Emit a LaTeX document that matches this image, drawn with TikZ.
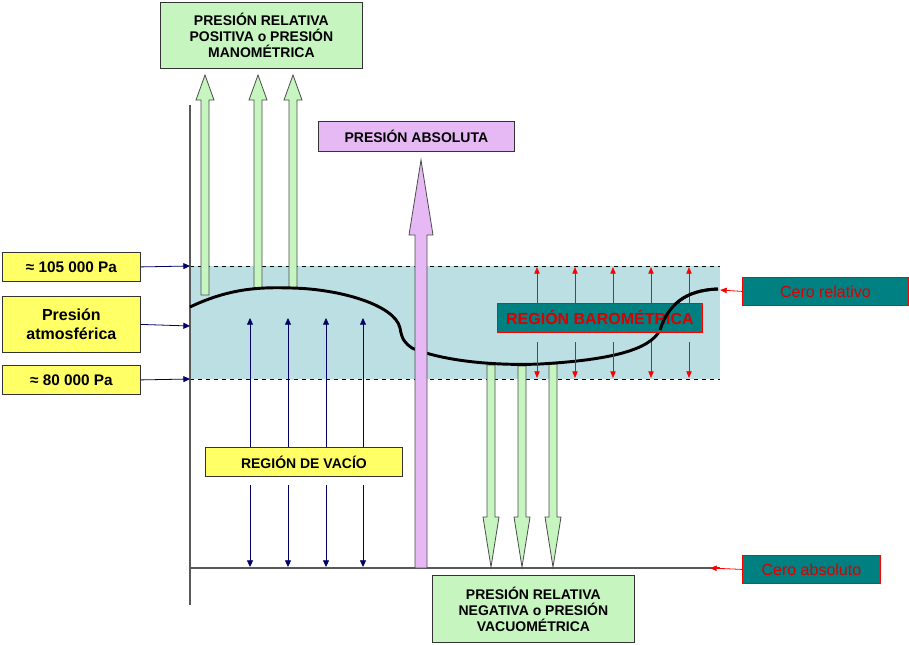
\documentclass[tikz,border=0pt]{standalone}
\usepackage{fontspec}
\setmainfont{Liberation Sans}
\usetikzlibrary{arrows.meta}
\definecolor{band}{HTML}{BCDFE3}
\definecolor{lgreen}{HTML}{C6F5C0}
\definecolor{lpink}{HTML}{E6B9F5}
\definecolor{lyel}{HTML}{FFFF66}
\definecolor{teal2}{HTML}{008080}
\definecolor{navy2}{HTML}{000066}
\begin{document}
\begin{tikzpicture}[x=0.75pt,y=-0.75pt,
  box/.style={draw=black!80,line width=0.6pt,inner sep=0pt,anchor=north west,align=center,font=\fontsize{10.5}{12}\selectfont\bfseries},
  tbox/.style={draw=red,fill=teal2,line width=0.6pt,inner sep=0pt,anchor=north west,font=\fontsize{12}{14}\selectfont,text=red!85!black},
  nav/.style={navy2,line width=0.6pt,-{Triangle[length=5pt,width=4.5pt]}},
  redar/.style={red,line width=0.6pt,-{Triangle[length=5pt,width=4pt]}}]
\useasboundingbox (0,0) rectangle (909,644);
% band
\fill[band] (190,266) rectangle (720,379);
\draw[dashed,line width=0.6pt] (190,266) -- (720,266);
\draw[dashed,line width=0.6pt] (190,379) -- (720,379);
% axes
\draw[gray!70!black,line width=0.8pt] (190,105) -- (190,605);
\draw[gray!70!black,line width=0.8pt] (190,568) -- (720,568);
% up green arrows
\foreach \x/\y in {205/295,258/288,293/288}{
  \draw[fill=lgreen,draw=black!70,line width=0.6pt] (\x-4,\y) -- (\x-4,100) -- (\x-9,100) -- (\x,75) -- (\x+9,100) -- (\x+4,100) -- (\x+4,\y) -- cycle;}
% down green arrows
\foreach \x/\y in {491/365,522/366,553/364}{
  \draw[fill=lgreen,draw=black!70,line width=0.6pt] (\x-4,\y) -- (\x-4,517) -- (\x-8,517) -- (\x,567) -- (\x+8,517) -- (\x+4,517) -- (\x+4,\y) -- cycle;}
% curve
\draw[line width=2.2pt] (190,307) .. controls (230,288) and (260,287) .. (292,288)
  .. controls (340,289) and (395,305) .. (400,328)
  .. controls (402,340) and (405,343) .. (412,348)
  .. controls (440,360) and (490,366) .. (540,364)
  .. controls (610,360) and (650,350) .. (660,330)
  .. controls (668,305) and (685,290) .. (718,289);
% pink arrow
\draw[fill=lpink,draw=black!70,line width=0.6pt] (415,568) -- (415,235) -- (409,235) -- (421,160) -- (433,235) -- (427,235) -- (427,568) -- cycle;
% blue arrows
\node[box,fill=lyel,minimum width=197pt*0.75,minimum height=29pt*0.75] (vac) at (205,447) {REGIÓN DE VACÍO};
\foreach \x in {250,288,326,363}{
  \coordinate (u\x) at (\x,318); \coordinate (d\x) at (\x,567);
  \coordinate (a\x) at (\x,447); \coordinate (b\x) at (\x,485);
  \draw[nav] (a\x) -- (u\x); \draw[nav] (b\x) -- (d\x);}
% barometric box and red arrows
\node[tbox,minimum width=205pt*0.75,minimum height=29pt*0.75] (bar) at (497,303) {\bfseries REGIÓN BAROMÉTRICA};
\foreach \x in {537,575,613,651,689}{
  \coordinate (t\x) at (\x,267); \coordinate (s\x) at (\x,378);
  \draw[redar] (\x,303) -- (t\x); \draw[redar] (\x,342) -- (s\x);}
\draw[line width=2.2pt] (660,330) .. controls (668,305) and (685,290) .. (718,289);
% top boxes
\node[box,fill=lgreen,minimum width=202pt*0.75,minimum height=66pt*0.75] (pos) at (160,2) {PRESIÓN RELATIVA\\POSITIVA o PRESIÓN\\MANOMÉTRICA};
\node[box,fill=lpink,minimum width=196pt*0.75,minimum height=30pt*0.75] (abs) at (318,121) {PRESIÓN ABSOLUTA};
\node[box,fill=lgreen,minimum width=202pt*0.75,minimum height=67pt*0.75] (neg) at (432,575) {PRESIÓN RELATIVA\\NEGATIVA o PRESIÓN\\VACUOMÉTRICA};
% left boxes
\node[box,fill=lyel,minimum width=138pt*0.75,minimum height=29pt*0.75,font=\fontsize{11.5}{13}\selectfont\bfseries] (p1) at (2,252) {≈ 105 000 Pa};
\node[box,fill=lyel,minimum width=138pt*0.75,minimum height=56pt*0.75,font=\fontsize{12}{14}\selectfont\bfseries] (p2) at (2,296) {Presión\\atmosférica};
\node[box,fill=lyel,minimum width=138pt*0.75,minimum height=29pt*0.75,font=\fontsize{11.5}{13}\selectfont\bfseries] (p3) at (2,365) {≈ 80 000 Pa};
\coordinate (c1) at (190,266); \coordinate (c2) at (190,326); \coordinate (c3) at (190,379);
\draw[nav] (p1.east) -- (c1);
\draw[nav] (p2.east) -- (c2);
\draw[nav] (p3.east) -- (c3);
% right boxes
\node[tbox,minimum width=166pt*0.75,minimum height=28pt*0.75] (cr) at (742,277) {Cero relativo};
\node[tbox,minimum width=138pt*0.75,minimum height=28pt*0.75] (ca) at (742,555) {Cero absoluto};
\coordinate (r1) at (720,290); \coordinate (r2) at (710,568);
\draw[redar] (cr.west) -- (r1);
\draw[redar] (ca.west) -- (r2);
\end{tikzpicture}
\end{document}
